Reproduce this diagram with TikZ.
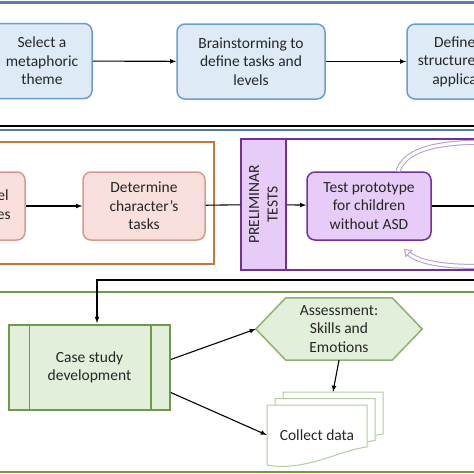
\documentclass[tikz,border=0pt]{standalone}
\usepackage{fontspec}
\setmainfont{Carlito}
\usetikzlibrary{arrows.meta,backgrounds}
\definecolor{boxblue}{HTML}{DEEBF7}
\definecolor{lineblue}{HTML}{6A9ECF}
\definecolor{topline}{HTML}{5A7EA5}
\definecolor{sepblue}{HTML}{4C7DAE}
\definecolor{pinkfill}{HTML}{F9E0DC}
\definecolor{pinkline}{HTML}{D99A8E}
\definecolor{orangeline}{HTML}{CD7634}
\definecolor{lavender}{HTML}{E6CCF6}
\definecolor{purpleline}{HTML}{7030A0}
\definecolor{arcpurple}{HTML}{B39CD0}
\definecolor{greenfill}{HTML}{E2EFDA}
\definecolor{greenline}{HTML}{6E9B4B}
\definecolor{hexline}{HTML}{8CB470}
\definecolor{docline}{HTML}{B2CDA2}
\begin{document}
\begin{tikzpicture}[x=1pt,y=-1pt,>=latex,
	every node/.style={font=\fontsize{15.5}{18.6}\selectfont, align=center, inner sep=0pt, text=black!85},
	bluebox/.style={draw=lineblue, fill=boxblue, line width=1.5pt, rounded corners=8pt, minimum width=148pt, minimum height=75pt},
	pinkbox/.style={draw=pinkline, fill=pinkfill, line width=1.5pt, rounded corners=8pt, minimum width=122pt, minimum height=68pt},
	purplebox/.style={draw=purpleline, fill=lavender, line width=1.5pt, rounded corners=8pt, minimum width=124pt, minimum height=68pt},
	arcband/.style={draw=arcpurple, double=white, double distance=3pt, line width=1pt},
	conn/.style={line width=1.1pt}]
		\clip (0,0) rectangle (474,474);
		% frames
		\draw[topline, line width=2.5pt] (-5,2.5) -- (480,2.5);
		\draw[black, line width=1.2pt] (-5,126) -- (480,126);
		\draw[sepblue, line width=1.5pt] (-5,130) -- (480,130);
		\draw[orangeline, line width=1.5pt] (-5,142) rectangle (214,264);
		\draw[purpleline, line width=1.5pt] (241,139) rectangle (490,270);
		\draw[greenline, line width=1.5pt] (-5,292) rectangle (480,472);
		% top row
		\node[bluebox, minimum width=100pt] (theme) at (42,61) {Select a\\metaphoric\\theme};
		\node[bluebox] (brainstorm) at (251,61.5) {Brainstorming to\\define tasks and\\levels};
		\node[bluebox, minimum width=120pt] (structure) at (467,61.5) {Define the\\structure of the\\application};
		\draw[->, conn] (theme) -- (brainstorm);
		\draw[->, conn] (brainstorm) -- (structure);
		% middle row
		\node[pinkbox, minimum width=140pt] (levels) at (-45,206) {Define each level\\and its challenges};
		\node[pinkbox] (chartasks) at (144,206) {Determine\\character’s\\tasks};
		\node[draw=purpleline, fill=lavender, line width=1.5pt, minimum width=45pt, minimum height=131pt] (prelim) at (263.5,204.5) {};
		\node[rotate=90] at (prelim.center) {PRELIMINAR\\TESTS};
		\node[purplebox] (prototype) at (369,206) {Test prototype\\for children\\without ASD};
		\coordinate (next) at (490,206);
		\draw[->, conn] (levels) -- (chartasks);
		\draw[conn] (chartasks) -- (prelim);
		\draw[->, conn] (prelim) -- (prototype);
		\draw[conn] (prototype) -- (next);
		% cycle arrows
		\draw[arcband] (398,171) .. controls (406,148) and (440,142) .. (490,142);
		\draw[arcband, -{Triangle[open, length=7pt, width=10pt]}] (490,266) .. controls (445,268) and (418,262) .. (404,249);
		% bottom row
		\coordinate (back) at (490,280);
		\draw[->, conn] (back) -| (97,323);
		\node[draw=greenline, fill=greenfill, line width=1.5pt, minimum width=161pt, minimum height=85pt] (casestudy) at (89.5,367.5) {Case study\\development};
		\draw[greenline, line width=1.5pt] ([xshift=21pt]casestudy.north west) -- ([xshift=21pt]casestudy.south west);
		\draw[greenline, line width=1.5pt] ([xshift=-20pt]casestudy.north east) -- ([xshift=-20pt]casestudy.south east);
		\node[minimum width=166pt, minimum height=62pt] (assess) at (339,329) {Assessment:\\Skills and\\Emotions};
		\begin{pgfonlayer}{background}
		\draw[hexline, fill=greenfill, line width=1.5pt] (assess.west) -- ([xshift=30pt]assess.north west) -- ([xshift=-30pt]assess.north east) -- (assess.east) -- ([xshift=-30pt]assess.south east) -- ([xshift=30pt]assess.south west) -- cycle;
		\end{pgfonlayer}
		% document stack
		\foreach \dx/\dy in {16/-13, 8/-6.5, 0/0}
			\draw[docline, fill=white, line width=1pt] (267+\dx,405+\dy) -- (367+\dx,405+\dy) -- (367+\dx,447+\dy) .. controls (340+\dx,450+\dy) and (305+\dx,472+\dy) .. (267+\dx,465+\dy) -- cycle;
		\node[minimum width=100pt, minimum height=60pt] (collect) at (317,435) {Collect data};
		\draw[->, conn] ([yshift=8pt]casestudy.east) -- (assess.west);
		\draw[->, conn] ([yshift=-25pt]casestudy.east) -- (collect.west);
		\draw[->, conn] (assess.south) -- ([xshift=16pt,yshift=13pt]collect.north);
		\end{tikzpicture}
\end{document}
